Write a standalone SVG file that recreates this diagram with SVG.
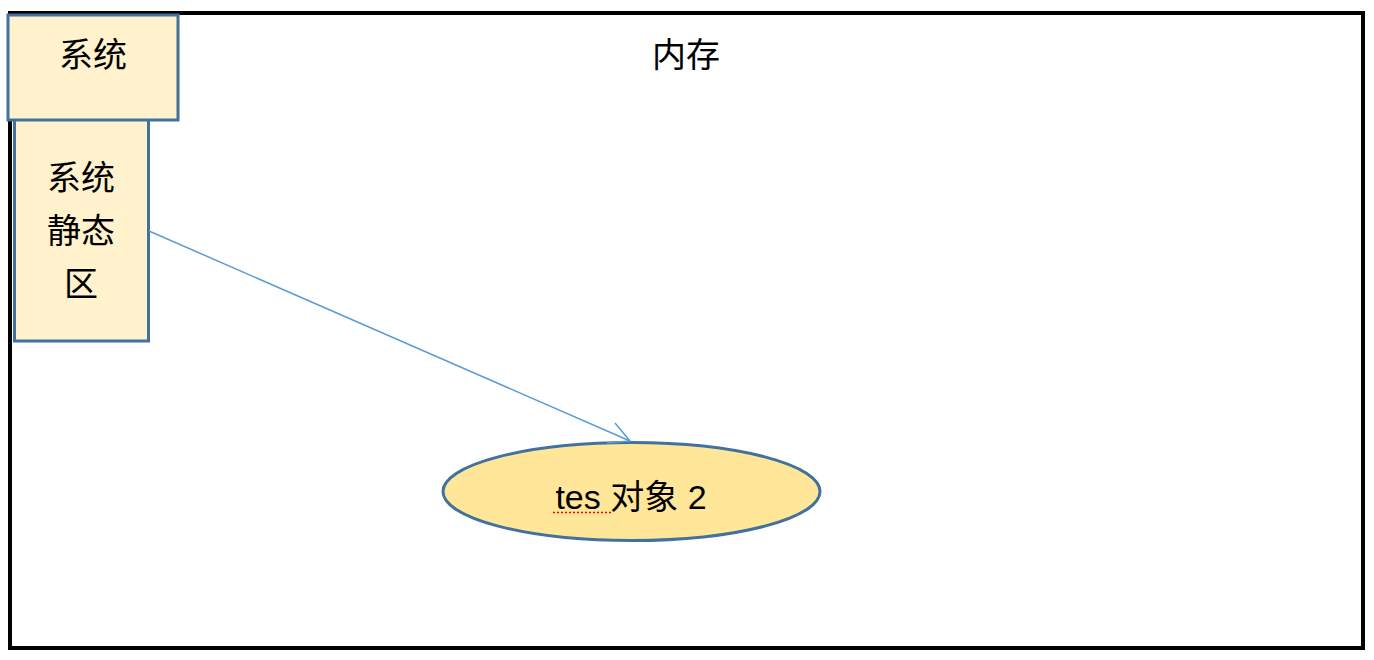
<svg xmlns="http://www.w3.org/2000/svg" width="1374" height="660" viewBox="0 0 1374 660">
<style>
.box{fill:#fff2cc;stroke:#41719c;stroke-width:3}
.t{font-family:"Liberation Serif","Noto Sans CJK SC",serif;font-size:34px;fill:#000;text-anchor:middle}
.conn{fill:none;stroke:#5b9bd5;stroke-width:1.5}
</style>
<rect width="1374" height="660" fill="#fff"/>
<g id="memory">
<rect x="10" y="13" width="1353" height="635" fill="none" stroke="#000" stroke-width="4"/>
<text class="t" x="686" y="67">内存</text>
</g>
<g id="static-area">
<rect class="box" x="14.5" y="119" width="134" height="222"/>
<text class="t" x="81" y="190">系统</text>
<text class="t" x="81" y="243">静态</text>
<text class="t" x="81" y="296">区</text>
</g>
<g id="system">
<rect class="box" x="8" y="15" width="170" height="105"/>
<text class="t" x="93" y="67">系统</text>
</g>
<g id="object2">
<ellipse cx="631.5" cy="491.5" rx="188.5" ry="49" fill="#ffe699" stroke="#41719c" stroke-width="3"/>
<text class="t" x="631" y="509" style="font-family:'Liberation Sans','Noto Sans CJK SC',sans-serif">tes 对象 2</text>
<line x1="553" y1="512.5" x2="611" y2="512.5" stroke="#e00" stroke-width="1.5" stroke-dasharray="2,2"/>
</g>
<g id="connectors">
<line class="conn" x1="149" y1="231" x2="630" y2="441"/>
<polyline class="conn" points="615,423 630,441 607,443"/>
</g>
</svg>
